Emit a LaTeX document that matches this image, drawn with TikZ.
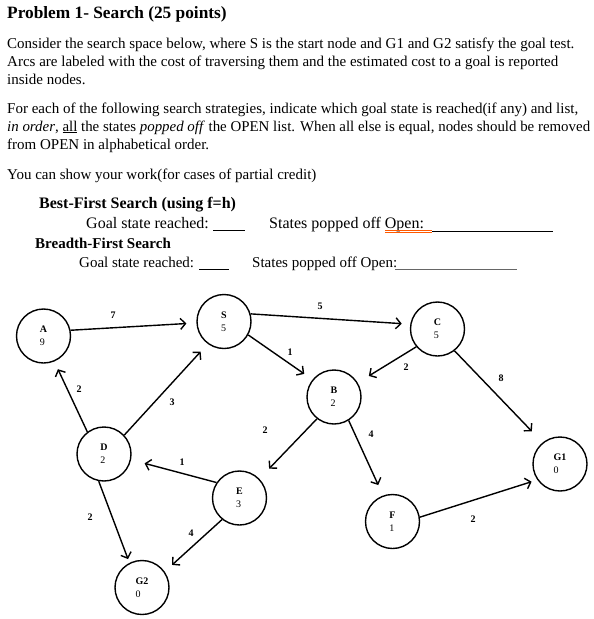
\documentclass[tikz,border=0pt]{standalone}
\usepackage{fontspec}
\setmainfont{Liberation Serif}
\usetikzlibrary{arrows.meta}
\begin{document}
\begin{tikzpicture}[x=1pt,y=-1pt,
  txt/.style={anchor=base west, inner sep=0pt, font=\fontsize{15}{18}\selectfont},
  txtb/.style={anchor=base west, inner sep=0pt, font=\fontsize{16}{18}\selectfont},
  state/.style={circle, draw, line width=1.4pt, minimum size=54pt, inner sep=0pt, align=left, font=\fontsize{10}{13}\selectfont},
  edge/.style={line width=1.4pt, -{Straight Barb[length=5pt,width=11pt]}},
  cost/.style={font=\fontsize{10}{11}\selectfont\bfseries, inner sep=0pt},
  blank/.style={line width=0.9pt}
]
\useasboundingbox[fill=white] (0,0) rectangle (594,619);

% ---------- text ----------
\node[anchor=base west, inner sep=0pt, font=\fontsize{17.3}{20}\selectfont\bfseries] (title) at (7,18) {Problem 1- Search (25 points)};
\node[txt] (l1) at (7,48) {Consider the search space below, where S is the start node and G1 and G2 satisfy the goal test.};
\node[txt] (l2) at (7,66) {Arcs are labeled with the cost of traversing them and the estimated cost to a goal is reported};
\node[txt] (l3) at (7,84) {inside nodes.};
\node[txt] (l4) at (7,113) {For each of the following search strategies, indicate which goal state is reached(if any) and list,};
\node[txt, font=\fontsize{14.9}{18}\selectfont] (l5) at (7,131) {\textit{in order}, \underline{all} the states \textit{popped off} the OPEN list. When all else is equal, nodes should be removed};
\node[txt] (l6) at (7,149) {from OPEN in alphabetical order.};
\node[txt] (l7) at (7,179) {You can show your work(for cases of partial credit)};

\node[txtb, font=\fontsize{16}{18}\selectfont\bfseries] (bfs) at (39,208) {Best-First Search (using f=h)};
\node[txtb] (g1) at (86,228) {Goal state reached:};
\node[txtb] (p1) at (269,228) {States popped off Open:};
\draw[blank] (213,230.5) -- (245,230.5);
\draw[orange!70!red, line width=0.5pt] (385,230) -- (432,230);
\draw[orange!70!red, line width=0.5pt] (385,232) -- (432,232);
\draw[blank] (432,231) -- (553,231);

\node[txt, font=\fontsize{15}{18}\selectfont\bfseries] (brs) at (35,248) {Breadth-First Search};
\node[txt] (g2) at (79,267) {Goal state reached:};
\node[txt] (p2) at (252,267) {States popped off Open:};
\draw[blank] (199,269.5) -- (229,269.5);
\draw[blank, black!60] (395,269.5) -- (517,269.5);

% ---------- graph ----------
\node[state] (A)  at (43.5,336)  {\textbf{A}\\9};
\node[state] (S)  at (224,321.5) {\textbf{S}\\5};
\node[state] (C)  at (437.5,329) {\textbf{C}\\5};
\node[state] (B)  at (334,397)   {\textbf{B}\\2};
\node[state] (G1) at (560,464)   {\textbf{G1}\\0};
\node[state] (F)  at (392.5,521.5) {\textbf{F}\\1};
\node[state] (D)  at (104,454)   {\textbf{D}\\2};
\node[state] (E)  at (239.5,498) {\textbf{E}\\3};
\node[state] (G2) at (142,587.5) {\textbf{G2}\\0};

\draw[edge, shorten >=10pt]  (A.12.5) -- (S.183);
\draw[edge, shorten >=8.5pt] (S.16)   -- (C.170);
\draw[edge, shorten >=10pt]  (S.-29)  -- (B.141.6);
\draw[edge, shorten >=13pt]  (C.220)  -- (B.31.7);
\draw[edge, shorten >=15.5pt](C.-52.7) -- (G1.129.3);
\draw[edge, shorten >=14pt]  (B.232)  -- (E.44.5);
\draw[edge, shorten >=11.5pt](B.-58)  -- (F.110.8);
\draw[edge, shorten >=6pt]   (F.9.3)  -- (G1.215);
\draw[edge, shorten >=14pt]  (E.146)  -- (D.-12.7);
\draw[edge, shorten >=10pt]  (E.231.5) -- (G2.35.6);
\draw[edge, shorten >=8.5pt] (D.127.7) -- (A.-67.7);
\draw[edge, shorten >=10.5pt](D.43.5) -- (S.234);
\draw[edge, shorten >=4pt]   (D.259)  -- (G2.117);

\node[cost] (cAS)  at (113,315) {7};
\node[cost] (cSC)  at (320,306) {5};
\node[cost] (cSB)  at (290,352) {1};
\node[cost] (cCB)  at (406,367) {2};
\node[cost] (cCG)  at (501,378) {8};
\node[cost] (cBE)  at (265,430) {2};
\node[cost] (cBF)  at (371,434) {4};
\node[cost] (cFG)  at (473,519) {2};
\node[cost] (cED)  at (182,462) {1};
\node[cost] (cEG)  at (191,533) {4};
\node[cost] (cDA)  at (79,389)  {2};
\node[cost] (cDS)  at (172,402) {3};
\node[cost] (cDG)  at (90,517)  {2};
\end{tikzpicture}
\end{document}
